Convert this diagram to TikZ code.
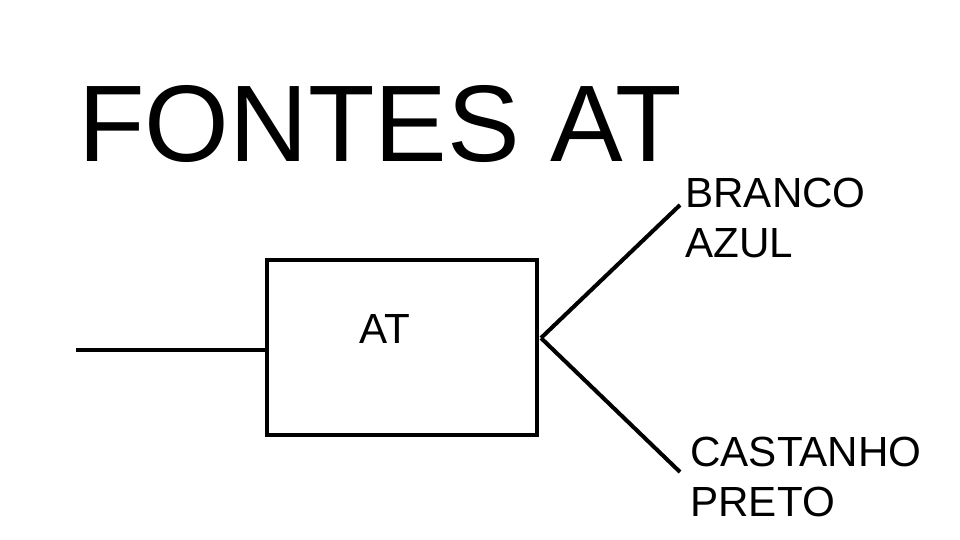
\documentclass[tikz,border=0pt]{standalone}
\usepackage{fontspec}
\setmainfont{Liberation Sans}
\begin{document}
\begin{tikzpicture}[x=0.02cm,y=-0.02cm,
  ln/.style={line width=2.3pt},
  lbl/.style={font=\fontsize{24}{30}\selectfont, anchor=west, inner sep=0pt}]
\useasboundingbox (0,0) rectangle (960,540);
\node[anchor=west, inner sep=0pt, font=\fontsize{62}{70}\selectfont] (title) at (78,124) {FONTES AT};
\node[draw, ln, minimum width=270*0.02cm, minimum height=175*0.02cm, anchor=center] (box) at (402,347.5) {};
\node[font=\fontsize{24}{30}\selectfont, inner sep=0pt] (at) at (385,329) {AT};
\coordinate (in) at (76,350);
\coordinate (j) at (541,338);
\coordinate (t) at (680,205);
\coordinate (b) at (680,472);
\draw[ln] (in) -- (box.west |- in);
\draw[ln] (j) -- (t);
\draw[ln] (j) -- (b);
\node[lbl] (br) at (685,193) {BRANCO};
\node[lbl] (az) at (685,243) {AZUL};
\node[lbl] (ca) at (690,452) {CASTANHO};
\node[lbl] (pr) at (690,502) {PRETO};
\end{tikzpicture}
\end{document}
